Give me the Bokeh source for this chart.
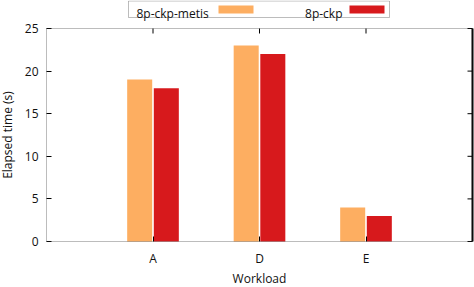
import math
from bokeh.plotting import figure
from bokeh.models import (Range1d, FixedTicker, Label, BoxAnnotation, ColumnDataSource)
from bokeh.embed import file_html
from bokeh.resources import INLINE

# ---- data ----
workloads = ["A", "D", "E"]
metis = [19, 23, 4]
ckp = [18, 22, 3]
series_names = ["8p-ckp-metis", "8p-ckp"]
colors = ["#fdae61", "#d7191c"]
y_ticks = [0, 5, 10, 15, 20, 25]
y_max = 25
x_label = "Workload"
y_label = "Elapsed time (s)"

FONT = "Open Sans"
TXT = "#111111"
positions = list(range(1, len(workloads) + 1))
x_max = len(workloads) + 1

# ---- layout: the frame fills the canvas; the plot box sits inside it ----
W, H = 474, 287
BOX_L, BOX_R, BOX_T, BOX_B = 46, 472, 28, 241
ux = x_max / (BOX_R - BOX_L)
uy = y_max / (BOX_B - BOX_T)
p = figure(width=W, height=H, output_backend="svg", toolbar_location=None,
           x_range=Range1d(-BOX_L * ux, x_max + (W - BOX_R) * ux),
           y_range=Range1d(-(H - BOX_B) * uy, y_max + BOX_T * uy),
           min_border=0)
p.background_fill_color = "white"
p.border_fill_color = "white"
p.outline_line_color = None
p.xgrid.visible = False
p.ygrid.visible = False

off = 0.125
w = 0.235
src = ColumnDataSource(dict(x1=[v - off for v in positions],
                            x2=[v + off for v in positions],
                            m=metis, c=ckp))
p.vbar(x="x1", top="m", width=w, source=src, fill_color=colors[0], line_color=None)
p.vbar(x="x2", top="c", width=w, source=src, fill_color=colors[1], line_color=None)

# plot box (gnuplot border)
p.add_layout(BoxAnnotation(left=0, right=x_max, bottom=0, top=y_max,
                           fill_color=None, line_color="#222222", line_width=1))
p.segment(x0=[x_max], y0=[0], x1=[x_max], y1=[y_max], line_color="black", line_width=2)
# mirrored ticks on the top and right border
p.ray(x=positions, y=[y_max] * len(positions), length=5, length_units="screen",
      angle=-math.pi / 2, line_color="black", line_width=1)
p.ray(x=[x_max] * len(y_ticks), y=y_ticks, length=5, length_units="screen",
      angle=math.pi, line_color="black", line_width=1)

def style(ax):
    ax.fixed_location = 0
    ax.axis_line_color = None
    ax.major_tick_in = 5
    ax.major_tick_out = 0
    ax.minor_tick_line_color = None
    ax.major_tick_line_color = "black"
    ax.major_label_text_font = FONT
    ax.major_label_text_font_size = "12px"
    ax.major_label_text_color = TXT

xax = p.xaxis[0]
xax.ticker = FixedTicker(ticks=positions)
xax.major_label_overrides = {pos: lab for pos, lab in zip(positions, workloads)}
xax.major_label_standoff = 8
style(xax)

yax = p.yaxis[0]
yax.ticker = FixedTicker(ticks=y_ticks)
yax.major_label_standoff = 8
style(yax)

# axis titles
p.add_layout(Label(x=x_max / 2, y=H - 278, y_units="screen", text=x_label,
                   text_font=FONT, text_font_size="12px", text_color=TXT,
                   text_align="center", text_baseline="middle"))
p.add_layout(Label(x=7, x_units="screen", y=y_max / 2, text=y_label, angle=math.pi / 2,
                   text_font=FONT, text_font_size="12px", text_color=TXT,
                   text_align="center", text_baseline="middle"))

# ---- legend (gnuplot style: label then swatch), screen px from bottom-left ----
def sbox(l, r, t, b, **kw):
    return BoxAnnotation(left=l, right=r, bottom=H - b, top=H - t,
                         left_units="screen", right_units="screen",
                         bottom_units="screen", top_units="screen",
                         fill_alpha=1.0, **kw)

p.add_layout(sbox(128, 389, 0.5, 17, fill_color="white", line_color="#222222", line_width=1))
p.add_layout(sbox(218, 253, 5, 13, fill_color=colors[0], line_color=None))
p.add_layout(sbox(349, 384, 5, 13, fill_color=colors[1], line_color=None))
p.add_layout(Label(x=136, y=H - 13, x_units="screen", y_units="screen",
                   text=series_names[0], text_font=FONT, text_font_size="12px",
                   text_color=TXT, text_align="left", text_baseline="alphabetic"))
p.add_layout(Label(x=342, y=H - 13, x_units="screen", y_units="screen",
                   text=series_names[1], text_font=FONT, text_font_size="12px",
                   text_color=TXT, text_align="right", text_baseline="alphabetic"))

open("out.html", "w").write(file_html(p, INLINE))
